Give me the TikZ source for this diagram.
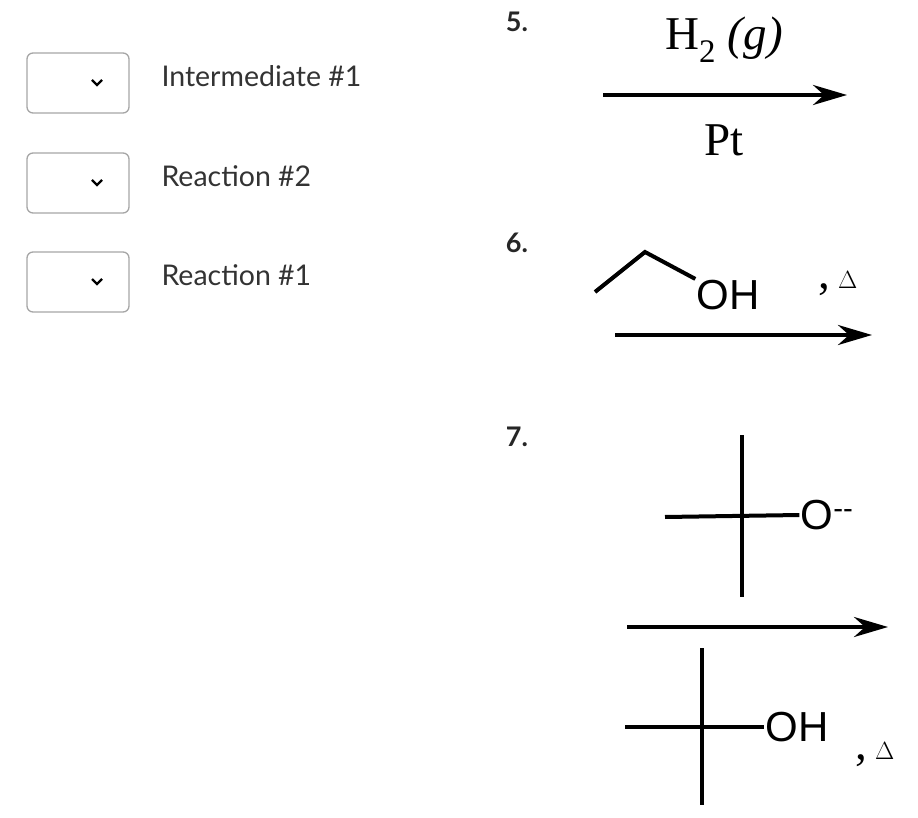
\documentclass[tikz,border=0pt]{standalone}
\usepackage{fontspec}
\setmainfont{Liberation Serif}
\newfontfamily\lato{Lato}
\newfontfamily\arial{Liberation Sans}
\usetikzlibrary{arrows.meta}
\begin{document}
\begin{tikzpicture}[x=1pt,y=-1pt,
  dd/.style={draw=gray!70,rounded corners=6pt,line width=1.3pt},
  lbl/.style={anchor=west,text=black!80,font=\lato\fontsize{28.5}{32}\selectfont},
  num/.style={anchor=center,text=black!85,font=\lato\bfseries\fontsize{27}{30}\selectfont},
  rx/.style={line width=4pt,-{Stealth[length=34pt,width=20pt]}},
  bond/.style={line width=4pt},
  ser/.style={font=\fontsize{47}{50}\selectfont},
  sans/.style={font=\arial\fontsize{42}{46}\selectfont,inner sep=1pt}]
\useasboundingbox (0,0) rectangle (918,818);
\foreach \y/\t/\n in {53/Intermediate \#1/a,153/Reaction \#2/b,252/Reaction \#1/c}{
  \draw[dd] (27,\y) rectangle (129,\y+60);
  \draw[line width=2.2pt] (92,\y+27) -- (97,\y+32) -- (102,\y+27);
  \node[lbl] (l\n) at (158,\y+23) {\t};
}
\node[num] (n5) at (517,22) {5.};
\node[num] (n6) at (517,243) {6.};
\node[num] (n7) at (517,437) {7.};
% reaction 5
\node[ser] (h2) at (724,40) {H\textsubscript{2} \textit{(g)}};
\coordinate (a5s) at (603,95); \coordinate (a5e) at (847,95);
\draw[rx] (a5s) -- (a5e);
\node[ser] (pt) at (724,140) {Pt};
% reaction 6
\coordinate (e1) at (595,292); \coordinate (e2) at (645,252);
\node[sans] (oh6) at (728,295) {OH};
\draw[bond] (e1) -- (e2) -- (oh6.north west);
\node[ser] (d6) at (838,284) {,\,$\Delta$};
\coordinate (a6s) at (615,335); \coordinate (a6e) at (872,335);
\draw[rx] (a6s) -- (a6e);
% reaction 7
\coordinate (t1) at (742,435); \coordinate (t2) at (742,597); \coordinate (t3) at (665,517);
\node[sans] (om) at (827,515) {O\textsuperscript{\raisebox{2pt}{--}}};
\draw[bond] (t1) -- (t2);
\draw[bond] (t3) -- (om.west);
\coordinate (a7s) at (627,627); \coordinate (a7e) at (888,627);
\draw[rx] (a7s) -- (a7e);
\coordinate (u1) at (702,648); \coordinate (u2) at (702,805); \coordinate (u3) at (625,727);
\node[sans] (oh7) at (797,727) {OH};
\draw[bond] (u1) -- (u2);
\draw[bond] (u3) -- (oh7.west);
\node[ser] (d7) at (875,755) {,\,$\Delta$};
\end{tikzpicture}
\end{document}
